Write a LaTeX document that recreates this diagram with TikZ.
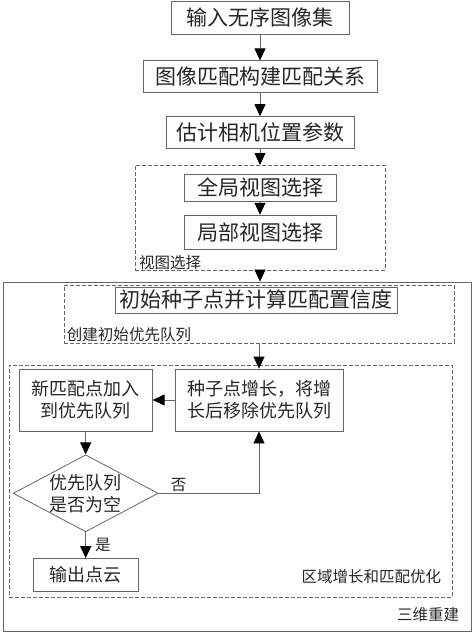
\documentclass[tikz,border=0pt]{standalone}
\usepackage{fontspec}
\setmainfont{Noto Sans CJK SC}
\usetikzlibrary{arrows.meta,positioning,shapes.geometric}

\begin{document}
\begin{tikzpicture}[x=1bp, y=-1bp, line width=0.8bp,
    main/.style = {draw=black!60, inner sep=0pt, minimum height=32bp, text=black!85, font=\fontsize{21bp}{24bp}\selectfont},
    sub/.style = {draw=black!60, inner sep=0pt, align=center, text=black!85, font=\fontsize{18bp}{22bp}\selectfont},
    dec/.style = {draw=black!60, diamond, inner sep=0pt, minimum width=145bp, minimum height=77bp},
    grp/.style = {draw=black!60, dash pattern=on 4bp off 2bp, inner sep=0pt},
    lbl/.style = {inner sep=1bp, text=black!85, font=\fontsize{15.5bp}{18bp}\selectfont},
    go/.style = {draw=black!60, -{Triangle[width=11bp,length=12bp,color=black]}}]
        \useasboundingbox (0,0) rectangle (474,633);
        \node[main, minimum width=178bp, minimum height=33bp] (1) at (260,17.5) {输入无序图像集};
        \node[main, minimum width=234bp] (2) [below=26bp of 1] {图像匹配构建匹配关系};
        \node[main, minimum width=188bp] (3) [below=23bp of 2] {估计相机位置参数};
        \node[grp, minimum width=250bp, minimum height=105bp] (v) [below=16bp of 3] {};
        \node[main, minimum width=152bp, minimum height=27bp] (4) [below=9bp of v.north] {全局视图选择};
        \node[main, minimum width=152bp, minimum height=34bp] (5) [below=13bp of 4] {局部视图选择};
        \node[lbl, anchor=south west] at ([xshift=3bp] v.south west) {视图选择};
        \node[draw=black!60, inner sep=0pt, minimum width=468bp, minimum height=349bp] (o) at (237,456.5) {};
        \node[lbl, anchor=south east] at ([xshift=-11bp, yshift=8bp] o.south east) {三维重建};
        \node[grp, minimum width=390bp, minimum height=58bp] (c) at (259,314) {};
        \node[main, minimum width=282bp, minimum height=26bp] (6) at (256,300) {初始种子点并计算匹配置信度};
        \node[lbl, anchor=south west] at ([xshift=2bp] c.south west) {创建初始优先队列};
        \node[grp, minimum width=443bp, minimum height=232bp] (r) at (230.5,481) {};
        \node[lbl, anchor=south east] at ([xshift=-10bp, yshift=12bp] r.south east) {区域增长和匹配优化};
        \node[sub, minimum width=168bp, minimum height=62bp] (8) at (259,400) {种子点增长，将增\\长后移除优先队列};
        \node[sub, minimum width=133bp, minimum height=62bp] (7) [left=22bp of 8] {新匹配点加入\\到优先队列};
        \node[dec, label={[sub, draw=none, align=center]center:优先队列\\是否为空}] (d) [below=23bp of 7] {};
        \node[sub, minimum width=105bp, minimum height=33bp] (9) [below=26bp of d] {输出点云};
        \draw[go] (1) -- (2);
        \draw[go] (2) -- (3);
        \draw[go] (3) -- (v);
        \draw[go] (4) -- (5);
        \draw[go] (v) -- (v |- o.north);
        \draw[go] (c) -- (8);
        \draw[go] (8) -- (7);
        \draw[go] (7) -- (d);
        \draw[go] (d.east) -| node[lbl, above, pos=0.1] {否} (8.south);
        \draw[go] (d) -- node[lbl, right=8bp] {是} (9);
    \end{tikzpicture}
\end{document}
